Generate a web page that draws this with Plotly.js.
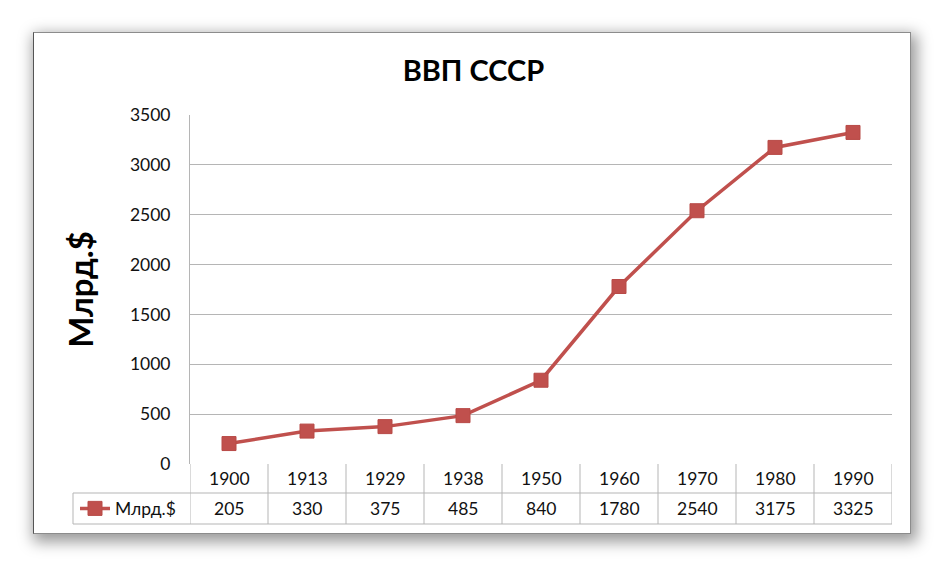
<!DOCTYPE html>
<html>
<head>
<meta charset="utf-8">
<script src="https://cdn.plot.ly/plotly-3.0.1.min.js"></script>
<style>
  html, body { margin: 0; padding: 0; background: #ffffff; }
  #wrap { position: relative; width: 943px; height: 566px; overflow: hidden; }
  #box { position: absolute; left: 33px; top: 32px; width: 876px; height: 500px;
         background: #ffffff; border: 1px solid #8c8c8c; border-left-color: #555;
         box-shadow: 3px 5px 14px 3px rgba(0,0,0,0.40); }
  #chart { position: absolute; left: 0; top: 0; width: 943px; height: 566px; }
</style>
</head>
<body>
<div id="wrap">
  <div id="box"></div>
  <div id="chart"></div>
</div>
<script>
// ---- data ----
const years = ["1900", "1913", "1929", "1938", "1950", "1960", "1970", "1980", "1990"];
const gdp = [205, 330, 375, 485, 840, 1780, 2540, 3175, 3325];
const seriesName = "Млрд.$";
const chartTitle = "ВВП СССР";
const yTicks = [0, 500, 1000, 1500, 2000, 2500, 3000, 3500];

// ---- layout geometry ----
const W = 943, H = 566;
const mL = 190, mR = 51, mT = 115, mB = 102;
const plotW = W - mL - mR, plotH = H - mT - mB;
const rowH1 = 29 / plotH, rowH2 = 60 / plotH;
const tableLeft = (73 - mL) / plotW;
const red = "#C0504D";
const gridCol = "#b5b5b5";
const font = "Lato, 'Open Sans', sans-serif";
const txt = "#111";
const fs = 17.5;

const shapes = [];
// vertical cell boundaries
for (let i = 0; i <= years.length; i++) {
  shapes.push({type: "line", xref: "x", yref: "paper", x0: i - 0.5, x1: i - 0.5, y0: 0, y1: -rowH2,
               line: {color: gridCol, width: 1}});
}
// horizontal row separator and bottom
shapes.push({type: "line", xref: "paper", yref: "paper", x0: tableLeft, x1: 1, y0: -rowH1, y1: -rowH1,
             line: {color: gridCol, width: 1}});
shapes.push({type: "line", xref: "paper", yref: "paper", x0: tableLeft, x1: 1, y0: -rowH2, y1: -rowH2,
             line: {color: gridCol, width: 1}});
// legend cell left edge
shapes.push({type: "line", xref: "paper", yref: "paper", x0: tableLeft, x1: tableLeft, y0: -rowH1, y1: -rowH2,
             line: {color: gridCol, width: 1}});

const annotations = [];
years.forEach((yr, i) => {
  annotations.push({xref: "x", yref: "paper", x: i, y: -rowH1 / 2, text: yr, showarrow: false,
                    xanchor: "center", yanchor: "middle", font: {family: font, size: fs, color: txt}});
  annotations.push({xref: "x", yref: "paper", x: i, y: -(rowH1 + rowH2) / 2, text: String(gdp[i]), showarrow: false,
                    xanchor: "center", yanchor: "middle", font: {family: font, size: fs, color: txt}});
});

const trace = {
  type: "scatter",
  mode: "lines+markers",
  x: years,
  y: gdp,
  name: seriesName,
  line: {color: red, width: 3.5},
  marker: {symbol: "square", size: 14, color: red, line: {color: "#b84a47", width: 1}},
  hoverinfo: "x+y"
};

const layout = {
  width: W, height: H,
  margin: {l: mL, r: mR, t: mT, b: mB, autoexpand: false},
  paper_bgcolor: "rgba(0,0,0,0)",
  plot_bgcolor: "rgba(0,0,0,0)",
  title: {text: "<b>" + chartTitle + "</b>", xref: "container", x: 0.502, xanchor: "center",
          yref: "container", y: 1 - 71 / H, yanchor: "middle",
          font: {family: font, size: 29, color: "#000"}},
  xaxis: {type: "category", range: [-0.5, years.length - 0.5], showticklabels: false,
          showgrid: false, zeroline: false, showline: false, ticks: "", fixedrange: true},
  yaxis: {range: [0, 3500], tickvals: yTicks, showgrid: true, gridcolor: gridCol, gridwidth: 1,
          zeroline: false, showline: true, linecolor: gridCol, linewidth: 1,
          ticks: "outside", ticklen: 15, tickcolor: "rgba(0,0,0,0)",
          tickfont: {family: font, size: fs, color: txt},
          title: {text: "<b>" + seriesName + "</b>", standoff: 26,
                  font: {family: font, size: 33, color: "#000"}},
          automargin: false, fixedrange: true},
  showlegend: true,
  legend: {x: tableLeft + 2 / plotW, y: -(rowH1 + rowH2) / 2, xanchor: "left", yanchor: "middle",
           bgcolor: "rgba(0,0,0,0)", borderwidth: 0, font: {family: font, size: fs, color: txt},
           itemwidth: 30, tracegroupgap: 0},
  shapes: shapes,
  annotations: annotations
};

Plotly.newPlot("chart", [trace], layout, {displayModeBar: false, staticPlot: true});
</script>
</body>
</html>
